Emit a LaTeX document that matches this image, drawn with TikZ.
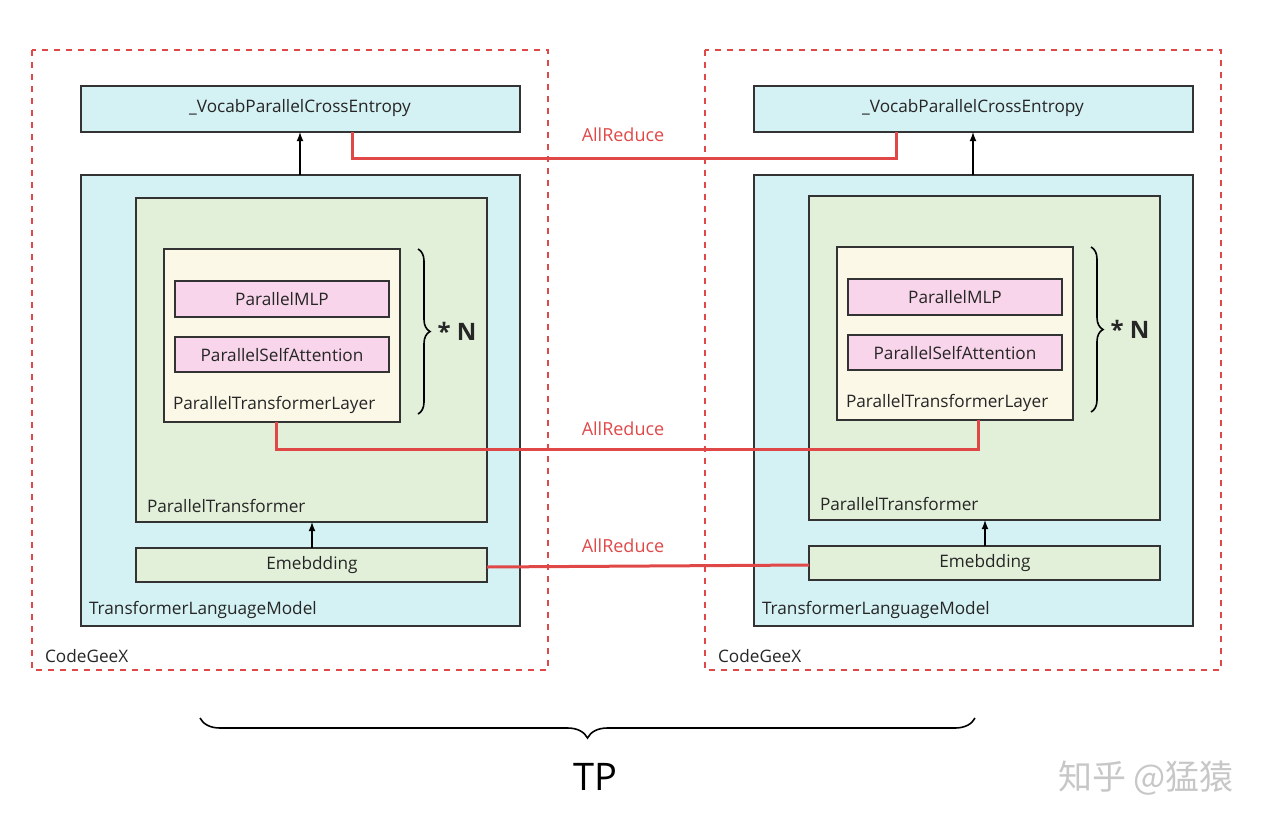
\documentclass[tikz,border=0pt]{standalone}
\usepackage{fontspec}
\setmainfont{Open Sans}
\newfontfamily\cjk{Noto Sans CJK SC}
\usetikzlibrary{decorations.pathreplacing}
\definecolor{cy}{HTML}{D4F1F4}
\definecolor{gr}{HTML}{E2F0D9}
\definecolor{cr}{HTML}{FBF8E8}
\definecolor{pk}{HTML}{F8D5EA}
\definecolor{rd}{HTML}{E04848}
\begin{document}
\begin{tikzpicture}[x=0.5pt,y=-0.5pt,
  box/.style={draw=black!80,line width=0.7pt},
  lab/.style={font=\fontsize{8.6}{10}\selectfont,text=black!85},
  red/.style={draw=rd,line width=1.5pt},
  rl/.style={font=\fontsize{9}{10}\selectfont,text=rd},
  arr/.style={-latex,line width=0.6pt}]
\useasboundingbox (0,0) rectangle (1280,831);
\foreach \s/\o/\dy in {L/0/0,R/673/-2}{
\begin{scope}[xshift=\o*0.5pt]
\draw[rd,dashed,line width=0.6pt] (32,50) rectangle (548,670);
\node[lab,anchor=west] (cg\s) at (38,656) {CodeGeeX};
\draw[box,fill=cy] (81,86) rectangle (520,132);
\node[lab] (voc\s) at (300,108) {\_VocabParallelCrossEntropy};
\draw[box,fill=cy] (81,175) rectangle (520,626);
\node[lab,anchor=west] (tlm\s) at (82,610) {TransformerLanguageModel};
\begin{scope}[yshift=-\dy*0.5pt]
\draw[box,fill=gr] (136,198) rectangle (487,522);
\node[lab,anchor=west] (pt\s) at (140,506) {ParallelTransformer};
\draw[box,fill=cr] (164,249) rectangle (400,422);
\node[lab,anchor=west] (ptl\s) at (166,405) {ParallelTransformerLayer};
\draw[box,fill=pk] (175,281) rectangle (389,317);
\node[lab] (mlp\s) at (282,299) {ParallelMLP};
\draw[box,fill=pk] (175,337) rectangle (389,372);
\node[lab] (sa\s) at (282,355) {ParallelSelfAttention};
\draw[line width=0.8pt,decorate,decoration={brace,amplitude=6pt}] (418,249) -- (418,414);
\node[font=\fontsize{12}{13}\selectfont\bfseries,text=black!85] (n\s) at (457,331) {* N};
\draw[box,fill=gr] (136,548) rectangle (487,582);
\node[lab] (emb\s) at (312,565) {Emebdding};
\draw[arr] (312,548) -- (312,522);
\end{scope}
\draw[arr] (300,175) -- (300,132);
\end{scope}}
\coordinate (a1) at (352,132); \coordinate (a2) at (896,132);
\draw[red] (a1) |- (624,158) -| (a2);
\node[rl] (ar1) at (623,135) {AllReduce};
\draw[red] (276,422) |- (624,449) -| (978,420);
\node[rl] (ar2) at (623,429) {AllReduce};
\draw[red] (487,567) -- (809,565);
\node[rl] (ar3) at (623,546) {AllReduce};
\draw[line width=0.8pt,decorate,decoration={brace,mirror,amplitude=10pt}] (200,718) -- (975,718);
\node[font=\fontsize{19}{22}\selectfont] (tp) at (595,777) {TP};
\node[font=\cjk\fontsize{17}{19}\selectfont,text=black!22] (wm) at (1146,778) {知乎 @猛猿};
\end{tikzpicture}
\end{document}
